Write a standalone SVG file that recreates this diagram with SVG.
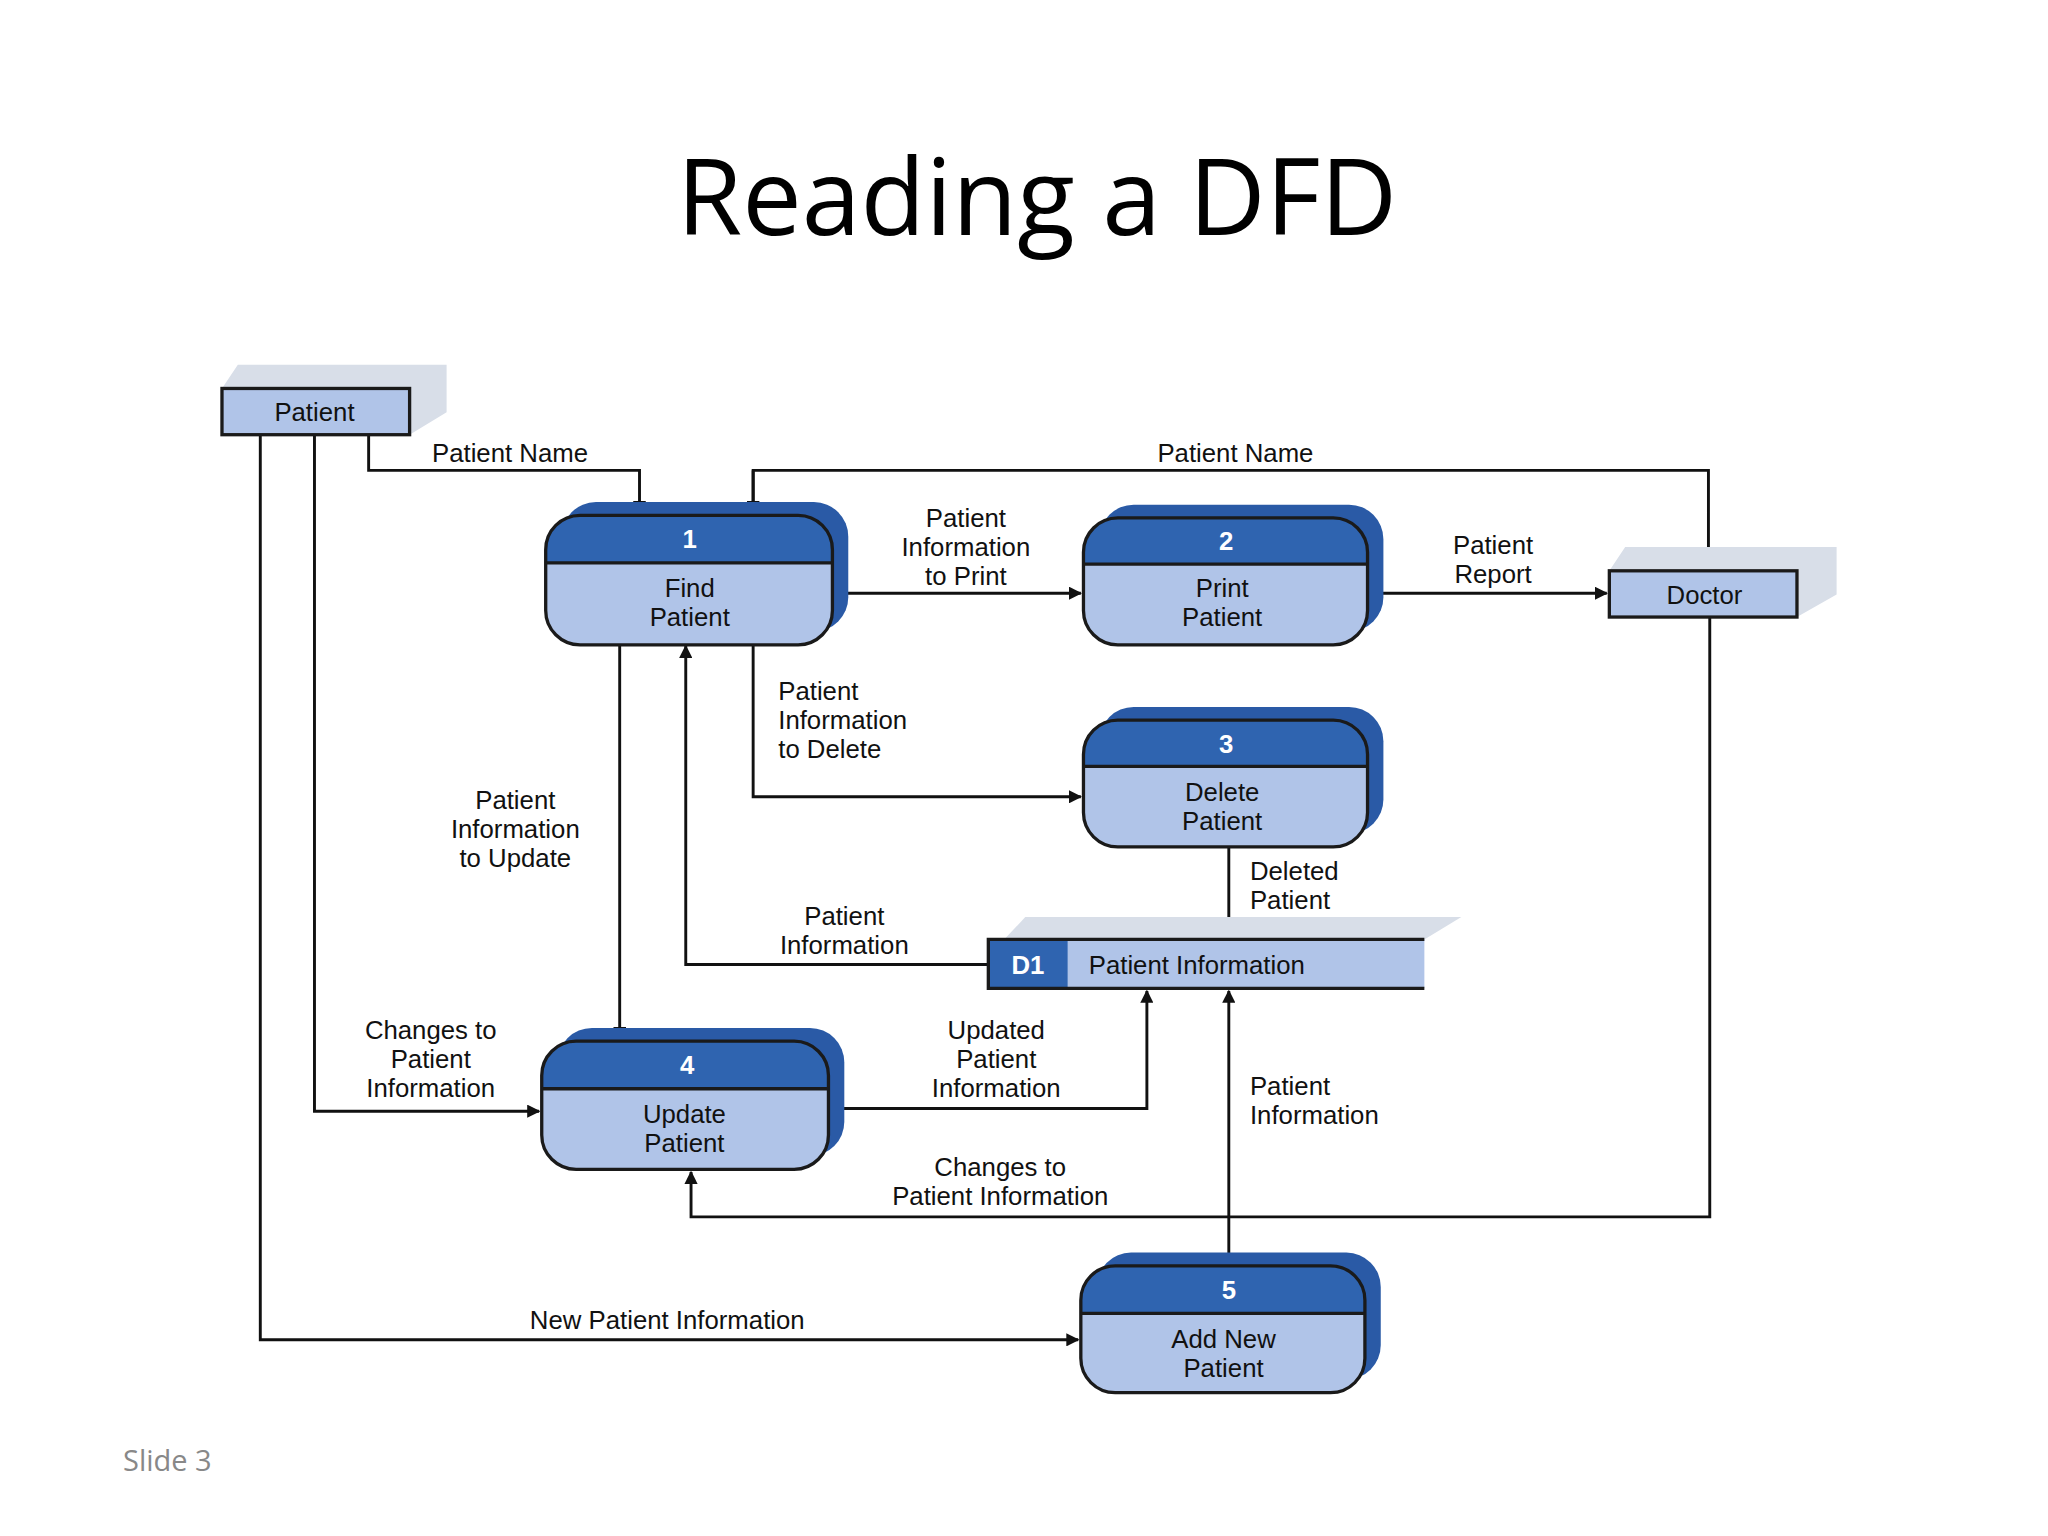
<svg xmlns="http://www.w3.org/2000/svg" width="2048" height="1536" viewBox="0 0 2048 1536">
<defs>
<style>
.t{font-family:"Liberation Sans",Arial,sans-serif;font-size:19.5px;fill:#111;text-anchor:middle}
.l{text-anchor:start}
.w{fill:#fff;font-weight:bold}
.c{fill:none;stroke:#111;stroke-width:2.2}
.hd{fill:#2F64B0}
.bd{fill:#B0C4E8}
.ol{fill:none;stroke:#1a1a1a;stroke-width:2.5}
.sh{fill:#D8DEE8}
.side{fill:#2a5aa6}
</style>
<marker id="a" markerWidth="10" markerHeight="10" refX="9" refY="5" orient="auto" markerUnits="userSpaceOnUse"><path d="M0,0 L10,5 L0,10 Z" fill="#111"/></marker>
<clipPath id="c1"><rect x="413" y="390" width="217" height="98" rx="26"/></clipPath>
<clipPath id="c2"><rect x="820" y="392" width="215" height="96" rx="26"/></clipPath>
<clipPath id="c3"><rect x="820" y="545" width="215" height="96" rx="26"/></clipPath>
<clipPath id="c4"><rect x="410" y="788" width="217" height="97" rx="26"/></clipPath>
<clipPath id="c5"><rect x="818" y="958" width="215" height="96" rx="26"/></clipPath>
</defs>
<rect width="2048" height="1536" fill="#fff"/>
<text x="1037" y="235" font-family="'Open Sans','Liberation Sans',sans-serif" font-size="106" text-anchor="middle" fill="#000">Reading a DFD</text>
<text x="123" y="1471" font-family="'Open Sans','Liberation Sans',sans-serif" font-size="29" fill="#888">Slide 3</text>
<g transform="scale(1.3213)">
<g id="connectors">
<path class="c" d="M279,329 V356 H484 V388" marker-end="url(#a)"/>
<path class="c" d="M570,388 V356 H1293 V431" marker-end="url(#a)"/>
<path class="c" d="M570,356 V388" marker-end="url(#a)"/>
<path class="c" d="M630,449 H818" marker-end="url(#a)"/>
<path class="c" d="M1035,449 H1216" marker-end="url(#a)"/>
<path class="c" d="M570,488 V603 H818" marker-end="url(#a)"/>
<path class="c" d="M469,488 V786" marker-end="url(#a)"/>
<path class="c" d="M748,730 H519 V489" marker-end="url(#a)"/>
<path class="c" d="M930,641 V709" marker-end="url(#a)"/>
<path class="c" d="M238,329 V841 H408" marker-end="url(#a)"/>
<path class="c" d="M627,839 H868 V750" marker-end="url(#a)"/>
<path class="c" d="M930,958 V750" marker-end="url(#a)"/>
<path class="c" d="M1294,467 V921 H523 V887" marker-end="url(#a)"/>
<path class="c" d="M197,329 V1014 H816" marker-end="url(#a)"/>
<text class="t" x="386" y="350">Patient Name</text>
<text class="t" x="935" y="350">Patient Name</text>
<text class="t" x="731" y="399">Patient</text><text class="t" x="731" y="421">Information</text><text class="t" x="731" y="443">to Print</text>
<text class="t" x="1130" y="419">Patient</text><text class="t" x="1130" y="441">Report</text>
<text class="t l" x="589" y="530">Patient</text><text class="t l" x="589" y="552">Information</text><text class="t l" x="589" y="574">to Delete</text>
<text class="t" x="390" y="612">Patient</text><text class="t" x="390" y="634">Information</text><text class="t" x="390" y="656">to Update</text>
<text class="t" x="639" y="700">Patient</text><text class="t" x="639" y="722">Information</text>
<text class="t l" x="946" y="666">Deleted</text><text class="t l" x="946" y="688">Patient</text>
<text class="t" x="326" y="786">Changes to</text><text class="t" x="326" y="808">Patient</text><text class="t" x="326" y="830">Information</text>
<text class="t" x="754" y="786">Updated</text><text class="t" x="754" y="808">Patient</text><text class="t" x="754" y="830">Information</text>
<text class="t l" x="946" y="829">Patient</text><text class="t l" x="946" y="851">Information</text>
<text class="t" x="757" y="890">Changes to</text><text class="t" x="757" y="912">Patient Information</text>
<text class="t" x="505" y="1006">New Patient Information</text>
</g>
<g id="patient">
<polygon class="sh" points="168,294 180,276 338,276 338,312 310,329 310,294"/>
<rect x="168" y="294" width="142" height="35" class="bd" stroke="#1a1a1a" stroke-width="2.5"/>
<text class="t" x="238" y="319">Patient</text>
</g>
<g id="doctor">
<polygon class="sh" points="1218,432 1230,414 1390,414 1390,450 1360,467 1360,432"/>
<rect x="1218" y="432" width="142" height="35" class="bd" stroke="#1a1a1a" stroke-width="2.5"/>
<text class="t" x="1290" y="457">Doctor</text>
</g>
<g id="p1">
<rect x="425" y="380" width="217" height="98" rx="26" class="side"/>
<g clip-path="url(#c1)"><rect x="413" y="390" width="217" height="98" class="bd"/><rect x="413" y="390" width="217" height="36" class="hd"/></g>
<rect x="413" y="390" width="217" height="98" rx="26" class="ol"/><line x1="413" y1="426" x2="630" y2="426" stroke="#1a1a1a" stroke-width="2.5"/>
<text class="t w" x="522" y="415">1</text><text class="t" x="522" y="452">Find</text><text class="t" x="522" y="474">Patient</text>
</g>
<g id="p2">
<rect x="832" y="382" width="215" height="96" rx="26" class="side"/>
<g clip-path="url(#c2)"><rect x="820" y="392" width="215" height="96" class="bd"/><rect x="820" y="392" width="215" height="35" class="hd"/></g>
<rect x="820" y="392" width="215" height="96" rx="26" class="ol"/><line x1="820" y1="427" x2="1035" y2="427" stroke="#1a1a1a" stroke-width="2.5"/>
<text class="t w" x="928" y="416">2</text><text class="t" x="925" y="452">Print</text><text class="t" x="925" y="474">Patient</text>
</g>
<g id="p3">
<rect x="832" y="535" width="215" height="96" rx="26" class="side"/>
<g clip-path="url(#c3)"><rect x="820" y="545" width="215" height="96" class="bd"/><rect x="820" y="545" width="215" height="35" class="hd"/></g>
<rect x="820" y="545" width="215" height="96" rx="26" class="ol"/><line x1="820" y1="580" x2="1035" y2="580" stroke="#1a1a1a" stroke-width="2.5"/>
<text class="t w" x="928" y="570">3</text><text class="t" x="925" y="606">Delete</text><text class="t" x="925" y="628">Patient</text>
</g>
<g id="p4">
<rect x="422" y="778" width="217" height="97" rx="26" class="side"/>
<g clip-path="url(#c4)"><rect x="410" y="788" width="217" height="97" class="bd"/><rect x="410" y="788" width="217" height="36" class="hd"/></g>
<rect x="410" y="788" width="217" height="97" rx="26" class="ol"/><line x1="410" y1="824" x2="627" y2="824" stroke="#1a1a1a" stroke-width="2.5"/>
<text class="t w" x="520" y="813">4</text><text class="t" x="518" y="850">Update</text><text class="t" x="518" y="872">Patient</text>
</g>
<g id="p5">
<rect x="830" y="948" width="215" height="96" rx="26" class="side"/>
<g clip-path="url(#c5)"><rect x="818" y="958" width="215" height="96" class="bd"/><rect x="818" y="958" width="215" height="36" class="hd"/></g>
<rect x="818" y="958" width="215" height="96" rx="26" class="ol"/><line x1="818" y1="994" x2="1033" y2="994" stroke="#1a1a1a" stroke-width="2.5"/>
<text class="t w" x="930" y="983">5</text><text class="t" x="926" y="1020">Add New</text><text class="t" x="926" y="1042">Patient</text>
</g>
<g id="d1">
<polygon class="sh" points="760,711 776,694 1106,694 1078,711"/>
<rect x="748" y="711" width="330" height="37" class="bd"/>
<rect x="748" y="711" width="60" height="37" class="hd"/>
<path d="M1078,711 H748 V748 H1078" fill="none" stroke="#1a1a1a" stroke-width="2.5"/>
<text class="t w" x="778" y="737">D1</text>
<text class="t l" x="824" y="737">Patient Information</text>
</g>
</g>
</svg>
